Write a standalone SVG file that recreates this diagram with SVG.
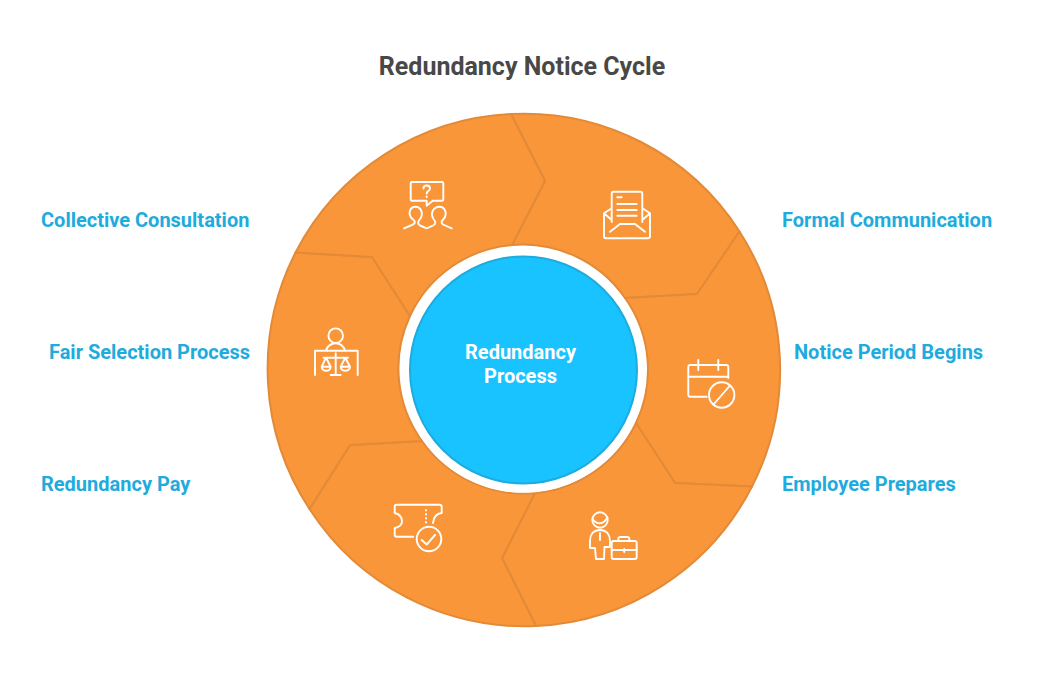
<svg xmlns="http://www.w3.org/2000/svg" width="1044" height="681" viewBox="0 0 1044 681">
<style>
.seg{fill:#f9963a;stroke:#e38a38;stroke-width:2;stroke-linejoin:round}
.ic{fill:none;stroke:#fff;stroke-width:1.900;stroke-linecap:round;stroke-linejoin:round}
.lb{font-family:Roboto,"Liberation Sans",sans-serif;font-weight:700;font-size:20px;fill:#1eabdd}
.ttl{font-family:Roboto,"Liberation Sans",sans-serif;font-weight:700;font-size:25px;fill:#484848}
.ctr{font-family:Roboto,"Liberation Sans",sans-serif;font-weight:700;font-size:20px;fill:#fff;text-anchor:middle}
</style>
<rect width="1044" height="681" fill="#fff"/>
<text class="ttl" x="522" y="75" text-anchor="middle">Redundancy Notice Cycle</text>
<g id="node-formal">
<path class="seg" d="M511 114A256 256 0 0 1 739.500 231.500L697 294L625 298A124 124 0 0 0 512 245L545 181Z"/>
<g class="ic"><path d="M611.700 222V193.700a2 2 0 0 1 2-2H640.300a2 2 0 0 1 2 2V222M611.700 208.300L604 213.300V236.300a2 2 0 0 0 2 2H648a2 2 0 0 0 2-2V213.300L642.300 208.300M604 213.300L611.700 220M650 213.300L642.300 220M610 231.700L620 224H635L645 231.700M617.300 197.300H621.700M617.300 204H636.700M617.300 210H636.700M617.300 215.700H636.700"/></g>
<text class="lb" x="782" y="227">Formal Communication</text>
</g>
<g id="node-notice">
<path class="seg" d="M739.500 231.500A256 256 0 0 1 752 486.500L675 483L636 423A124 124 0 0 0 625 298L697 294Z"/>
<g class="ic"><path d="M706.700 396.700H690.300a2 2 0 0 1-2-2V367a2 2 0 0 1 2-2H726.300a2 2 0 0 1 2 2V378M688.300 376.700H728.300M698.300 360V370M718.300 360V370"/><circle cx="721.700" cy="395" r="12.700"/><path d="M713.500 404.500L730 385.500"/></g>
<text class="lb" x="794" y="359">Notice Period Begins</text>
</g>
<g id="node-employee">
<path class="seg" d="M752 486.500A256 256 0 0 1 536 626L502 558L535 493A124 124 0 0 0 636 423L675 483Z"/>
<g class="ic"><circle cx="600" cy="520" r="7.700"/><path d="M592.500 519C597 525 603 525 607.500 517.500M600 530C593 530 590 535 590 541V548H595L596 559H604L604.500 547H610V541C610 535 607 530 600 530ZM600 533V540"/><rect x="611.700" y="541" width="25" height="18" rx="2"/><path d="M618.300 541V539a2 2 0 0 1 2-2H627.300a2 2 0 0 1 2 2V541M611.700 550H636.700M624.200 549V552"/></g>
<text class="lb" x="782" y="491">Employee Prepares</text>
</g>
<g id="node-pay">
<path class="seg" d="M536 626A256 256 0 0 1 309.500 509L350 445L422 441A124 124 0 0 0 535 493L502 558Z"/>
<g class="ic"><path d="M413.300 536.700H396.700a2 2 0 0 1-2-2V528C399 527 402 525 402 521.500C402 517 399 514 394.700 513V506.700a2 2 0 0 1 2-2H439.700a2 2 0 0 1 2 2V513C437 513.500 433.500 517 433 523"/><path d="M426 510V510.500M426 514V514.500M426 518V518.500M426 522V522.500"/><circle cx="429" cy="539" r="12.300"/><path d="M421.700 540L426.700 544.500L435 535"/></g>
<text class="lb" x="41" y="491">Redundancy Pay</text>
</g>
<g id="node-fair">
<path class="seg" d="M309.500 509A256 256 0 0 1 295.500 252.500L372 257L410 316A124 124 0 0 0 422 441L350 445Z"/>
<g class="ic"><circle cx="335.700" cy="335.700" r="7.300"/><path d="M326 350.500C328 345 332 343.300 335.700 343.300C339.400 343.300 343 345 345 350.500M315 375V350.700H357.700V375M323.500 357.700H348M335.700 353.300V375M330.700 375H340.700M326 357.700L321.700 366.700M326 357.700L330.700 366.700M345.300 357.700L340.700 366.700M345.300 357.700L350 366.700M321.700 366.700H330.700C330.700 372 321.700 372 321.700 366.700ZM340.700 366.700H350C350 372 340.700 372 340.700 366.700Z"/></g>
<text class="lb" x="49" y="359">Fair Selection Process</text>
</g>
<g id="node-collective">
<path class="seg" d="M295.500 252.500A256 256 0 0 1 511 114L545 181L512 245A124 124 0 0 0 410 316L372 257Z"/>
<g class="ic"><path d="M412 182H442a1.300 1.300 0 0 1 1.300 1.300V199.400a1.300 1.300 0 0 1-1.300 1.300H432.700L426.700 205.700V200.700H412a1.300 1.300 0 0 1-1.300-1.300V183.300a1.300 1.300 0 0 1 1.300-1.300ZM423.500 188.500C423.500 184.500 430 184.500 430 188.500C430 191 426.700 191 426.700 193.500M426.700 196.500V197M404 228.300L413 224.500C416 223 415 221 412.500 219C407 214 410 206.700 415.500 206.700C421 206.700 424 214 420 219C417.500 222 417.500 224 420 225.500L426.700 228.300L433 225.500C436 224 436 222 433.500 219C430 214 433 206.700 439.500 206.700C445 206.700 448 214 443.500 219C441 221.500 441 223 443 224.500L451.700 228.300"/></g>
<text class="lb" x="41" y="227">Collective Consultation</text>
</g>
<g id="hub">
<circle cx="523.500" cy="369.750" r="123" fill="#fff"/>
<circle cx="523.500" cy="370" r="113.500" fill="#19c3ff" stroke="#1eabdd" stroke-width="2"/>
<text class="ctr"><tspan x="520.500" y="359">Redundancy</tspan><tspan x="520.500" y="383">Process</tspan></text>
</g>
</svg>
